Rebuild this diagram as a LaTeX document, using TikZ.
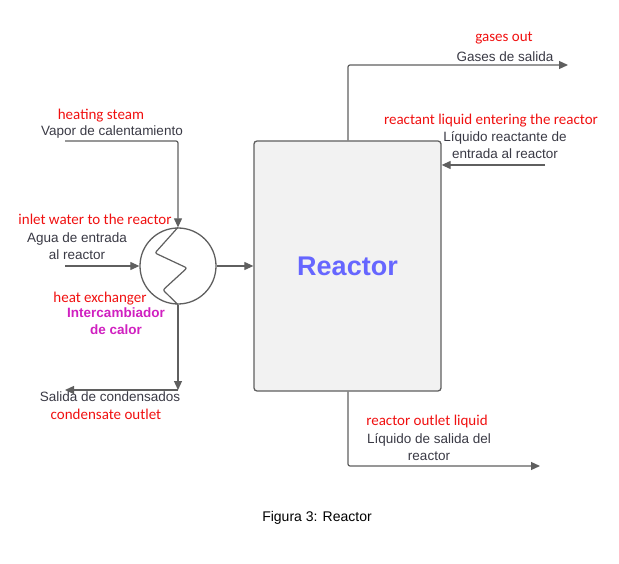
\documentclass[tikz,border=0pt]{standalone}
\usepackage{fontspec}
\setmainfont{Liberation Sans}
\newfontfamily\notefont{Carlito}
\usetikzlibrary{arrows.meta}
\definecolor{linegray}{HTML}{5F5F5F}
\definecolor{txtgray}{HTML}{3A3A45}
\definecolor{notered}{HTML}{F01010}
\definecolor{reacblue}{HTML}{6666FF}
\definecolor{hxpink}{HTML}{D020C0}
\tikzset{
  pipe/.style={draw=linegray,line width=1.2pt,rounded corners=2pt},
  flow/.style={pipe,-{Triangle[length=9pt,width=8pt]}},
  lbl/.style={text=txtgray,font=\fontsize{13.5}{16.5}\selectfont,align=center,inner sep=0pt},
  note/.style={text=notered,font=\notefont\fontsize{15}{16}\selectfont,inner sep=0pt}
}
\begin{document}
\begin{tikzpicture}[x=1pt,y=-1pt]
\useasboundingbox (0,0) rectangle (619,564);
% reactor and exchanger
\node[draw=linegray,line width=1.3pt,fill=gray!10,rounded corners=3pt,minimum width=187pt,minimum height=250pt,inner sep=0pt] (reactor) at (347.5,266) {};
\node[text=reacblue,font=\bfseries\fontsize{27}{30}\selectfont] at (reactor) {Reactor};
\node[draw=linegray,line width=1.3pt,circle,minimum size=76pt,inner sep=0pt] (hx) at (178,266) {};
\draw[pipe] (hx.north) -- (155,253) -- (187,268) -- (163,290) -- (hx.south);
% helper points
\coordinate (steamin) at (65,141);
\coordinate (waterin) at (65,266);
\coordinate (condend) at (178,390);
\coordinate (condout) at (65,390);
\coordinate (gastop) at (348,65);
\coordinate (gasout) at (568,65);
\coordinate (liqin) at (545,165);
\coordinate (liqbot) at (348,466);
\coordinate (liqout) at (540,466);
% streams
\draw[flow] (steamin) -| (hx.north);
\draw[flow] (waterin) -- (hx.west);
\draw[flow] (hx.east) -- (reactor.west);
\draw[flow] (hx.south) -- (condend);
\draw[flow] (condend) -- (condout);
\draw[flow] (reactor.north) ++(0.5,0) |- (gasout);
\draw[flow] (liqin) -- (reactor.east |- liqin);
\draw[flow] (reactor.south) ++(0.5,0) |- (liqout);
% labels
\node[note] at (504,38) {gases out};
\node[lbl] at (505,57) {Gases de salida};
\node[note] at (491,121) {reactant liquid entering the reactor};
\node[lbl] at (505,145) {Líquido reactante de\\entrada al reactor};
\node[note] at (101,116) {heating steam};
\node[lbl] at (112,132) {Vapor de calentamiento};
\node[note] at (95,219) {inlet water to the reactor};
\node[lbl] at (77,246) {Agua de entrada\\al reactor};
\node[note] at (100,299) {heat exchanger};
\node[lbl,text=hxpink,font=\bfseries\fontsize{13.5}{17}\selectfont] at (116,321) {Intercambiador\\de calor};
\node[lbl] at (110,397) {Salida de condensados};
\node[note] at (106,414) {condensate outlet};
\node[note] at (427,421) {reactor outlet liquid};
\node[lbl] at (429,447) {Líquido de salida del\\reactor};
\node[lbl,text=black,font=\fontsize{14}{16}\selectfont] at (317,518) {Figura 3: Reactor};
\end{tikzpicture}
\end{document}
